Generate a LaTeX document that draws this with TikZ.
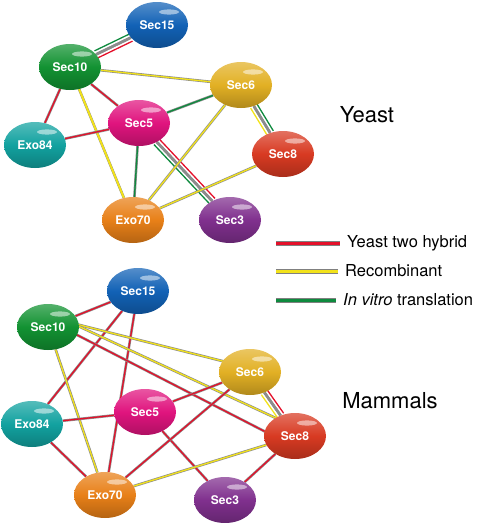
\documentclass[tikz,border=0pt]{standalone}
\usepackage{fontspec}
\setmainfont{TeX Gyre Heros}
\usetikzlibrary{shapes.geometric,backgrounds,positioning}
\definecolor{cblue}{HTML}{1262B6}
\definecolor{cgreen}{HTML}{129232}
\definecolor{cmagenta}{HTML}{E0147E}
\definecolor{cteal}{HTML}{12A2A0}
\definecolor{corange}{HTML}{E88018}
\definecolor{cpurple}{HTML}{80308E}
\definecolor{cgold}{HTML}{E2B024}
\definecolor{cred}{HTML}{D83A22}
\definecolor{lred}{HTML}{E4102A}
\definecolor{lyellow}{HTML}{F2E21A}
\definecolor{lgreen}{HTML}{0E8A3E}

\begin{document}
\begin{tikzpicture}[
    x=1pt, y=-1pt,
    prot/.style={ellipse, minimum width=62pt, minimum height=46pt, inner sep=0pt,
      top color=#1!72!white, bottom color=#1!78!black, middle color=#1,
      text=white, font=\bfseries\fontsize{12}{12}\selectfont,
      path picture={\fill[white, opacity=0.5]
        ([xshift=12pt, yshift=13pt]path picture bounding box.center) ellipse (10pt and 2.6pt);}},
    link/.style={line width=1.3pt, preaction={draw=black!45, line width=2.6pt}},
    yth/.style={link, draw=lred},
    rec/.style={link, draw=lyellow},
    ivt/.style={link, draw=lgreen},
    key/.style={line width=3pt, preaction={draw=black!50, line width=5pt}},
    title/.style={font=\fontsize{22}{22}\selectfont},
    keytext/.style={right=7pt of #1, inner sep=0pt, font=\fontsize{16.5}{16.5}\selectfont}
  ]
  \useasboundingbox (0,0) rectangle (479,523);

  % yeast
  \node[prot=cblue]    (ysec15) at (157,25)  {Sec15};
  \node[prot=cgreen]   (ysec10) at (70,67)   {Sec10};
  \node[prot=cmagenta] (ysec5)  at (139,123) {Sec5};
  \node[prot=cteal]    (yexo84) at (35,145)  {Exo84};
  \node[prot=corange]  (yexo70) at (133,220) {Exo70};
  \node[prot=cpurple]  (ysec3)  at (230,220) {Sec3};
  \node[prot=cgold]    (ysec6)  at (241,85)  {Sec6};
  \node[prot=cred]     (ysec8)  at (283,154) {Sec8};
  \node[title] (yeast) at (367,115) {Yeast};

  % mammals
  \node[prot=cblue]    (msec15) at (138,291) {Sec15};
  \node[prot=cgreen]   (msec10) at (48,327)  {Sec10};
  \node[prot=cmagenta] (msec5)  at (145,412) {Sec5};
  \node[prot=cteal]    (mexo84) at (32,424)  {Exo84};
  \node[prot=corange]  (mexo70) at (105,495) {Exo70};
  \node[prot=cpurple]  (msec3)  at (225,500) {Sec3};
  \node[prot=cgold]    (msec6)  at (250,372) {Sec6};
  \node[prot=cred]     (msec8)  at (295,436) {Sec8};
  \node[title] (mammals) at (390,401) {Mammals};

  \begin{scope}[on background layer]
    % yeast links
    \draw[ivt, transform canvas={xshift=-1.7pt, yshift=3.5pt}] (ysec10) -- (ysec15);
    \draw[yth, transform canvas={xshift=1.7pt, yshift=-3.5pt}] (ysec10) -- (ysec15);
    \draw[rec] (ysec10) -- (ysec6);
    \draw[yth] (ysec10) -- (yexo84);
    \draw[yth] (ysec10) -- (ysec5);
    \draw[rec, line width=2pt] (ysec10) -- (yexo70);
    \draw[yth] (yexo84) -- (ysec5);
    \draw[ivt] (ysec5) -- (ysec6);
    \draw[ivt] (ysec5) -- (yexo70);
    \draw[ivt, transform canvas={xshift=-2.8pt, yshift=-2.6pt}] (ysec5) -- (ysec3);
    \draw[yth, transform canvas={xshift=2.8pt, yshift=2.6pt}] (ysec5) -- (ysec3);
    \draw[rec] (ysec6) -- (yexo70);
    \draw[rec, transform canvas={xshift=-3.2pt, yshift=-2pt}] (ysec6) -- (ysec8);
    \draw[ivt, transform canvas={xshift=3.2pt, yshift=2pt}] (ysec6) -- (ysec8);
    \draw[rec] (ysec8) -- (yexo70);

    % mammal links
    \draw[yth] (msec10) -- (msec15);
    \draw[yth] (msec15) -- (mexo84);
    \draw[yth] (msec15) -- (mexo70);
    \draw[rec] ([yshift=10pt]msec10.center) -- ([yshift=4pt]msec6.center);
    \draw[rec] ([yshift=15pt]msec10.center) -- ([yshift=9pt]msec8.center);
    \draw[yth] ([yshift=7pt]msec10.center) -- ([yshift=-11pt]msec8.center);
    \draw[rec] (msec10) -- (mexo70);
    \draw[yth] (mexo84) -- (msec5);
    \draw[yth] (mexo84) -- (mexo70);
    \draw[yth] (msec5) -- (msec6);
    \draw[yth] (msec5) -- (msec3);
    \draw[yth] (msec6) -- (mexo70);
    \draw[rec, transform canvas={xshift=-3.1pt, yshift=-2.2pt}] (msec6) -- (msec8);
    \draw[yth, transform canvas={xshift=3.1pt, yshift=2.2pt}] (msec6) -- (msec8);
    \draw[yth] (msec8) -- (msec3);
    \draw[rec] (msec8) -- (mexo70);
  \end{scope}

  % key
  \coordinate (k1a) at (276,243); \coordinate (k1b) at (340,243);
  \coordinate (k2a) at (276,271); \coordinate (k2b) at (338,271);
  \coordinate (k3a) at (276,300); \coordinate (k3b) at (336,300);
  \draw[key, draw=lred] (k1a) -- (k1b);
  \draw[key, draw=lyellow] (k2a) -- (k2b);
  \draw[key, draw=lgreen] (k3a) -- (k3b);
  \node[keytext=k1b] (k1text) {Yeast two hybrid};
  \node[keytext=k2b] (k2text) {Recombinant};
  \node[keytext=k3b] (k3text) {\textit{In vitro} translation};
\end{tikzpicture}
\end{document}
